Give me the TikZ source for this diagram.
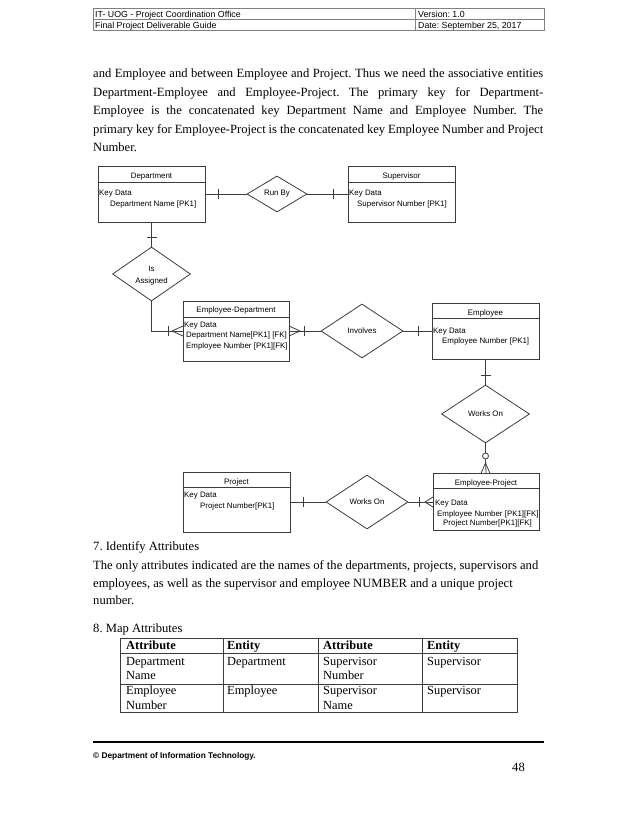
\documentclass[tikz,border=0pt]{standalone}
\usepackage{fontspec}
\setmainfont{Liberation Serif}
\newfontfamily\arial{Liberation Sans}
\usetikzlibrary{shapes.geometric}
\definecolor{dgray}{HTML}{3C3C3C}
\definecolor{hgray}{HTML}{808080}
\frenchspacing
\begin{document}
\begin{tikzpicture}[x=1pt,y=-1pt,
  ent/.style={draw=dgray, line width=0.8pt, rectangle, inner sep=0},
  rel/.style={draw=dgray, line width=0.8pt, diamond, inner sep=0, aspect=1.6,
              font=\arial\fontsize{7.9}{12}\selectfont, align=center},
  etxt/.style={font=\arial\fontsize{7.9}{9}\selectfont, inner sep=0, anchor=base west},
  ttl/.style={font=\arial\fontsize{7.9}{9}\selectfont, inner sep=0, anchor=base},
  conn/.style={draw=dgray, line width=0.8pt},
  body/.style={font=\fontsize{12.6}{15}\selectfont, inner sep=0, anchor=base west},
  hdr/.style={font=\arial\fontsize{8.8}{10}\selectfont, inner sep=0, anchor=base west},
  cell/.style={font=\fontsize{12.4}{14}\selectfont, inner sep=0, anchor=base west},
  cellb/.style={font=\bfseries\fontsize{12.4}{14}\selectfont, inner sep=0, anchor=base west},
  grid/.style={draw=dgray, line width=0.8pt}
]
\useasboundingbox (0,0) rectangle (638,826);
\fill[white] (0,0) rectangle (638,826);

% ---------- header ----------
\draw[draw=hgray, line width=0.9pt] (93,8) rectangle (544,30);
\draw[draw=hgray, line width=0.9pt] (93,19) -- (544,19);
\draw[draw=hgray, line width=0.9pt] (415,8) -- (415,30);
\node[hdr] (h1) at (95,17.2) {IT- UOG - Project Coordination Office};
\node[hdr] (h2) at (418,17.2) {Version: 1.0};
\node[hdr] (h3) at (95,28.2) {Final Project Deliverable Guide};
\node[hdr] (h4) at (418,28.2) {Date: September 25, 2017};

% ---------- paragraph ----------
\node[body] (p1) at (93,78) {\makebox[450pt][s]{and Employee and between Employee and Project. Thus we need the associative entities}};
\node[body] (p2) at (93,96.5) {\makebox[450pt][s]{Department-Employee and Employee-Project. The primary key for Department-}};
\node[body] (p3) at (93,115) {\makebox[450pt][s]{Employee is the concatenated key Department Name and Employee Number. The}};
\node[body] (p4) at (93,133.5) {\makebox[450pt][s]{primary key for Employee-Project is the concatenated key Employee Number and Project}};
\node[body] (p5) at (93,152) {Number.};

% ---------- ER diagram ----------
% Department
\node[ent, minimum width=107, minimum height=56] (dept) at (151.5,194) {};
\draw[conn] (dept.west |- 0,182) -- (dept.east |- 0,182);
\node[ttl] (deptt) at (151.5,178.5) {Department};
\node[etxt] (deptk) at (99,196) {Key Data};
\node[etxt] (deptn) at (110,206.5) {Department Name [PK1]};

% Supervisor
\node[ent, minimum width=107, minimum height=56] (super) at (401.5,194) {};
\draw[conn] (super.west |- 0,182) -- (super.east |- 0,182);
\node[ttl] (supert) at (401.5,178.5) {Supervisor};
\node[etxt] (superk) at (349,196) {Key Data};
\node[etxt] (supern) at (357,206.5) {Supervisor Number [PK1]};

% Run By
\node[rel, minimum width=60, minimum height=36] (runby) at (277,194) {Run By};

% Is Assigned
\node[rel, minimum width=78, minimum height=54] (isas) at (151.5,274) {};
\node[ttl] (isast1) at (151.5,271) {Is};
\node[ttl] (isast2) at (151.5,283) {Assigned};

% Employee-Department
\node[ent, minimum width=106, minimum height=60] (empdept) at (236,331) {};
\draw[conn] (empdept.west |- 0,317) -- (empdept.east |- 0,317);
\node[ttl] (empdeptt) at (236,312.8) {Employee-Department};
\node[etxt] (empdeptk) at (184,327) {Key Data};
\node[etxt] (empdeptn1) at (186,337.3) {Department Name[PK1] [FK]};
\node[etxt] (empdeptn2) at (186,348) {Employee Number [PK1][FK]};

% Involves
\node[rel, minimum width=82, minimum height=54] (involves) at (362,331) {Involves};

% Employee
\node[ent, minimum width=107, minimum height=56] (employee) at (485.5,331) {};
\draw[conn] (employee.west |- 0,318) -- (employee.east |- 0,318);
\node[ttl] (employeet) at (485.5,315) {Employee};
\node[etxt] (employeek) at (433,333) {Key Data};
\node[etxt] (employeen) at (442,343) {Employee Number [PK1]};

% Works On (vertical)
\node[rel, minimum width=88, minimum height=58] (works1) at (485.5,414) {Works On};
\node[circle, draw=dgray, line width=0.8pt, fill=white, minimum size=6, inner sep=0] (circ) at (485.5,456) {};

% Employee-Project
\node[ent, minimum width=106, minimum height=57] (emppro) at (486,502) {};
\draw[conn] (emppro.west |- 0,488) -- (emppro.east |- 0,488);
\node[ttl] (empprot) at (486,485) {Employee-Project};
\node[etxt] (empprok) at (435,505) {Key Data};
\node[etxt] (emppron1) at (437,516) {Employee Number [PK1][FK]};
\node[etxt] (emppron2) at (443,525) {Project Number[PK1][FK]};

% Works On (horizontal)
\node[rel, minimum width=82, minimum height=54] (works2) at (367,502) {Works On};

% Project
\node[ent, minimum width=107, minimum height=60] (project) at (236.5,502) {};
\draw[conn] (project.west |- 0,487) -- (project.east |- 0,487);
\node[ttl] (projectt) at (236.5,484) {Project};
\node[etxt] (projectk) at (184,497) {Key Data};
\node[etxt] (projectn) at (200,508) {Project Number[PK1]};

% connectors
\draw[conn] (dept.east) -- (runby.west);
\draw[conn] (218,189) -- (218,199);
\draw[conn] (runby.east) -- (super.west);
\draw[conn] (333,189) -- (333,199);

\draw[conn] (dept.south) -- (isas.north);
\draw[conn] (146.5,237) -- (156.5,237);

\draw[conn] (isas.south) |- (empdept.west);
\draw[conn] (168,326) -- (168,336);
\draw[conn] (172,331) -- (183,326) (172,331) -- (183,336);

\draw[conn] (empdept.east) -- (involves.west);
\draw[conn] (300,331) -- (289,326) (300,331) -- (289,336);
\draw[conn] (304,326) -- (304,336);

\draw[conn] (involves.east) -- (employee.west);
\draw[conn] (418,326) -- (418,336);

\draw[conn] (employee.south) -- (works1.north);
\draw[conn] (480.5,375) -- (490.5,375);

\draw[conn] (works1.south) -- (circ.north);
\draw[conn] (circ.south) -- (emppro.north);
\draw[conn] (485.5,463) -- (481,473.5) (485.5,463) -- (490,473.5);

\draw[conn] (project.east) -- (works2.west);
\draw[conn] (303,497) -- (303,507);

\draw[conn] (works2.east) -- (emppro.west);
\draw[conn] (419,497) -- (419,507);
\draw[conn] (425,502) -- (433,497) (425,502) -- (433,507);

% ---------- section text ----------
\node[body] (s7) at (93,550) {7. Identify Attributes};
\node[body] (t1) at (93,569) {The only attributes indicated are the names of the departments, projects, supervisors and};
\node[body] (t2) at (93,587) {employees, as well as the supervisor and employee NUMBER and a unique project};
\node[body] (t3) at (93,604.5) {number.};
\node[body] (s8) at (93,632) {8. Map Attributes};

% ---------- table ----------
\draw[grid] (120,638) rectangle (517,712);
\draw[grid] (120,653) -- (517,653);
\draw[grid] (120,684) -- (517,684);
\draw[grid] (223,638) -- (223,712);
\draw[grid] (318,638) -- (318,712);
\draw[grid] (422,638) -- (422,712);
\node[cellb] (c11) at (126,649) {Attribute};
\node[cellb] (c12) at (227,649) {Entity};
\node[cellb] (c13) at (323,649) {Attribute};
\node[cellb] (c14) at (427,649) {Entity};
\node[cell] (c21a) at (126,665) {Department};
\node[cell] (c21b) at (126,679.5) {Name};
\node[cell] (c22) at (227,665) {Department};
\node[cell] (c23a) at (323,665) {Supervisor};
\node[cell] (c23b) at (323,679.5) {Number};
\node[cell] (c24) at (427,665) {Supervisor};
\node[cell] (c31a) at (126,694.5) {Employee};
\node[cell] (c31b) at (126,709) {Number};
\node[cell] (c32) at (227,694.5) {Employee};
\node[cell] (c33a) at (323,694.5) {Supervisor};
\node[cell] (c33b) at (323,709) {Name};
\node[cell] (c34) at (427,694.5) {Supervisor};

% ---------- footer ----------
\draw[line width=2.8pt] (93,742) -- (544,742);
\node[font=\arial\bfseries\fontsize{8.3}{10}\selectfont, inner sep=0, anchor=base west] (foot) at (93,758) {© Department of Information Technology.};
\node[body] (pg) at (512,771) {48};
\end{tikzpicture}
\end{document}
